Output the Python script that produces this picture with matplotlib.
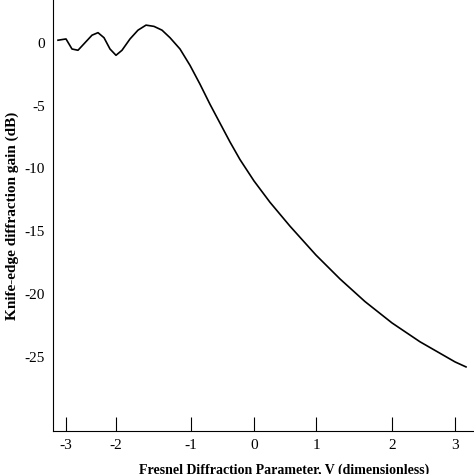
import matplotlib.pyplot as plt

# x positions are picture-based (non-uniform tick spacing in the source)
tick_pos = [66, 116, 191, 254, 316, 392, 455]
tick_labels = ["-3", "-2", "-1", "0", "1", "2", "3"]

curve_x = [58, 66, 72, 78, 85, 92, 98, 104, 110, 116, 122, 130, 138, 146, 154, 162,
           170, 180, 190, 200, 210, 220, 230, 240, 254, 270, 290, 316, 340, 365,
           392, 420, 455, 466]
gain_db = [0.2, 0.3, -0.5, -0.6, 0.0, 0.6, 0.8, 0.4, -0.5, -1.0, -0.6, 0.3, 1.0, 1.4,
           1.3, 1.0, 0.4, -0.5, -1.8, -3.3, -4.9, -6.4, -7.9, -9.3, -11.0, -12.7,
           -14.6, -16.9, -18.8, -20.6, -22.3, -23.8, -25.4, -25.8]

plt.rcParams['font.family'] = ['Liberation Serif', 'DejaVu Serif']
plt.rcParams['axes.unicode_minus'] = False

fig = plt.figure(figsize=(4.74, 4.74), dpi=100)
ax = fig.add_axes([53/474, (474-431)/474, 1-53/474, 431/474])
ax.plot(curve_x, gain_db, color="black", linewidth=1.2)

ax.set_xlim(53, 474)
ax.set_ylim(-30.9, 3.4)
ax.set_xticks(tick_pos)
ax.set_xticklabels(tick_labels)
ax.set_yticks([0, -5, -10, -15, -20, -25])
ax.tick_params(axis="x", direction="in", length=10, labelsize=11, pad=6)
ax.tick_params(axis="y", length=0, labelsize=11, pad=6)
ax.spines["top"].set_visible(False)
ax.spines["right"].set_visible(False)
ax.set_ylabel("Knife-edge diffraction gain (dB)", fontweight="bold", fontsize=11)
fig.text(0.6, 0.008, "Fresnel Diffraction Parameter, V (dimensionless)",
         ha="center", va="center", fontweight="bold", fontsize=10)

fig.savefig("out.png", dpi=100)
